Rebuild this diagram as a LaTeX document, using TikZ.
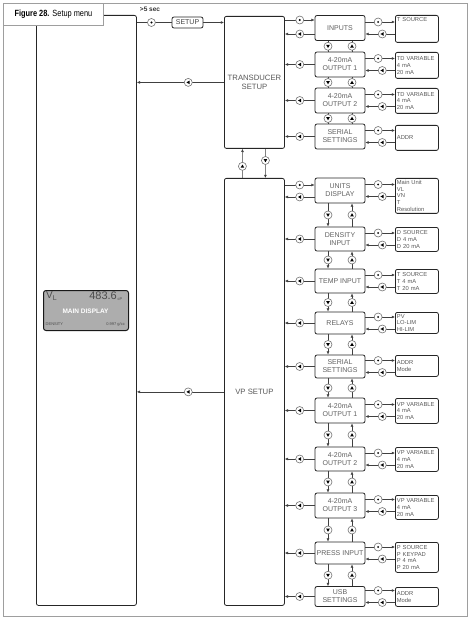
\documentclass[tikz,border=0pt]{standalone}
\usepackage{fontspec}
\setmainfont{Liberation Sans}
\newfontfamily\condfont{Liberation Sans}[FakeStretch=0.82]
\usetikzlibrary{arrows.meta,calc}
\begin{document}
\begin{tikzpicture}[x=1pt,y=-1pt,
  frame/.style={draw=black!38,line width=0.9pt},
  box/.style={draw=black!85,line width=0.8pt,rounded corners=2pt,fill=white},
  mid/.style={box,minimum width=50pt,inner sep=1pt,align=center,text=black!62,font=\fontsize{7}{8}\selectfont},
  rbox/.style={box,anchor=north west,text width=40pt,inner xsep=1.5pt,inner ysep=1.5pt,align=left,text=black!65,font=\fontsize{5.8}{6.7}\selectfont},
  conn/.style={draw=black!75,line width=0.5pt},
  arr/.style={conn,-{Latex[length=3.2pt,width=2.8pt]}},
  sym/.style={circle,draw=black!55,fill=white,line width=0.6pt,minimum size=8pt,inner sep=0pt},
  dotc/.style={sym,path picture={\fill[black] (path picture bounding box.center) circle (1.1pt);}},
  backc/.style={sym,path picture={\fill[black,shift={(path picture bounding box.center)}] (-1.8pt,0pt) -- (1.3pt,1.8pt) -- (1.3pt,-1.8pt) -- cycle;}},
  downc/.style={sym,path picture={\fill[black,shift={(path picture bounding box.center)}] (-1.8pt,1.3pt) -- (1.8pt,1.3pt) -- (0pt,-1.8pt) -- cycle;}},
  upc/.style={sym,path picture={\fill[black,shift={(path picture bounding box.center)}] (-1.8pt,-1.3pt) -- (1.8pt,-1.3pt) -- (0pt,1.8pt) -- cycle;}},
]
\useasboundingbox (0,0) rectangle (474,620);
\draw[frame] (3,3) rectangle (467,616);

% main display column
\node[box,anchor=north west,minimum width=100pt,minimum height=590pt] (main) at (36,15) {};
\node[draw=black!38,line width=0.9pt,fill=white,anchor=north west,minimum width=100pt,minimum height=22pt,inner sep=2pt] (fig) at (3,3) {\condfont\fontsize{9}{10}\selectfont\textbf{Figure 28.}\hspace{3pt}Setup menu};

\node[draw=black!90,line width=1pt,fill=black!32,rounded corners=2.5pt,anchor=north west,minimum width=85pt,minimum height=40pt] (lcd) at (43,290) {};
\node[anchor=west,inner sep=0pt,text=black!70,font=\fontsize{10}{10}\selectfont] (vl) at (46,296) {V\textsubscript{L}};
\node[anchor=east,inner sep=0pt,text=black!70,font=\fontsize{11}{11}\selectfont] (val) at (117,296) {483.6};
\node[anchor=west,inner sep=0pt,text=black!70,font=\fontsize{4}{4}\selectfont] (cp) at (117.5,299) {cP};
\node[text=white,font=\bfseries\fontsize{6.5}{7}\selectfont,inner sep=0pt] (md) at (85.5,311) {MAIN DISPLAY};
\node[anchor=west,inner sep=0pt,text=black!70,font=\fontsize{4}{4}\selectfont] (den) at (45.5,324) {DENSITY};
\node[anchor=east,inner sep=0pt,text=black!70,font=\fontsize{4}{4}\selectfont] (dv) at (125,324) {0.997 g/cc};

% setup entry
\node[font=\bfseries\fontsize{6.5}{7}\selectfont,text=black!80,inner sep=0pt] (sec) at (150,9.5) {>5 sec};
\node[box,minimum width=31pt,minimum height=11pt,inner sep=0pt,font=\fontsize{7}{8}\selectfont,text=black!75] (setup) at (187.5,22.5) {SETUP};

% setup menus
\node[box,anchor=north west,minimum width=60pt,minimum height=132pt,align=center,text=black!65,font=\fontsize{7.7}{9}\selectfont] (ts) at (224,16) {TRANSDUCER\\SETUP};
\node[box,anchor=north west,minimum width=60pt,minimum height=427pt,text=black!65,font=\fontsize{7.7}{9}\selectfont] (vp) at (224,178) {VP SETUP};

% transducer items
\node[mid,minimum height=25pt] (t1) at (340,28) {INPUTS};
\node[mid,minimum height=25pt] (t2) at (340,64.5) {4-20mA\\OUTPUT 1};
\node[mid,minimum height=25pt] (t3) at (340,100.5) {4-20mA\\OUTPUT 2};
\node[mid,minimum height=25pt] (t4) at (340,136.5) {SERIAL\\SETTINGS};

\node[rbox,minimum height=27pt] (r1) at (395,15) {\parbox[t][22pt][t]{40pt}{T SOURCE}};
\node[rbox,minimum height=26pt] (r2) at (395,52) {TD~VARIABLE\\4 mA\\20 mA};
\node[rbox,minimum height=25pt] (r3) at (395,88) {TD~VARIABLE\\4 mA\\20 mA};
\node[rbox,minimum height=25pt] (r4) at (395,125) {ADDR};

% VP items
\node[mid,minimum height=25pt] (v1) at (340,190.5) {UNITS\\DISPLAY};
\node[mid,minimum height=24pt] (v2) at (340,239) {DENSITY\\INPUT};
\node[mid,minimum height=24pt] (v3) at (340,281) {TEMP INPUT};
\node[mid,minimum height=22pt] (v4) at (340,323) {RELAYS};
\node[mid,minimum height=23pt] (v5) at (340,366.5) {SERIAL\\SETTINGS};
\node[mid,minimum height=25pt] (v6) at (340,410.5) {4-20mA\\OUTPUT 1};
\node[mid,minimum height=24pt] (v7) at (340,459) {4-20mA\\OUTPUT 2};
\node[mid,minimum height=25pt] (v8) at (340,505.5) {4-20mA\\OUTPUT 3};
\node[mid,minimum height=22pt] (v9) at (340,553) {PRESS INPUT};
\node[mid,minimum height=20pt] (v10) at (340,596.5) {USB\\SETTINGS};

\node[rbox,minimum height=35pt] (s1) at (395,178) {Main Unit\\VL\\VN\\T\\Resolution};
\node[rbox,minimum height=24pt] (s2) at (395,227) {D SOURCE\\D 4 mA\\D 20 mA};
\node[rbox,minimum height=24pt] (s3) at (395,269) {T SOURCE\\T 4 mA\\T 20 mA};
\node[rbox,minimum height=21pt] (s4) at (395,312) {PV\\LO-LIM\\HI-LIM};
\node[rbox,minimum height=21pt] (s5) at (395,355) {ADDR\\Mode};
\node[rbox,minimum height=25pt] (s6) at (395,398) {VP~VARIABLE\\4 mA\\20 mA};
\node[rbox,minimum height=24pt] (s7) at (395,447) {VP~VARIABLE\\4 mA\\20 mA};
\node[rbox,minimum height=24pt] (s8) at (395,495) {VP~VARIABLE\\4 mA\\20 mA};
\node[rbox,minimum height=30pt] (s9) at (395,542) {P SOURCE\\P KEYPAD\\P 4 mA\\P 20 mA};
\node[rbox,minimum height=19pt] (s10) at (395,587) {ADDR\\Mode};

% connectors: entry
\draw[conn] (setup.west -| main.east) -- node[dotc,pos=0.42] (c0) {} (setup.west);
\draw[arr] (setup.east) -- (setup.east -| ts.west);

% back to main display
\draw[arr] (ts.west) -- node[backc,pos=0.41] (cl1) {} (ts.west -| main.east);
\draw[arr] (vp.west) -- node[backc,pos=0.41] (cl2) {} (vp.west -| main.east);

% between transducer and VP setup
\draw[arr] ($(vp.north)+(-12,0)$) -- node[upc,pos=0.4] (cu) {} ($(ts.south)+(-12,0)$);
\draw[arr] ($(ts.south)+(11,0)$) -- node[downc,pos=0.4] (cd) {} ($(vp.north)+(11,0)$);

% transducer to items
\draw[arr] ($(ts.east |- t1.west)+(0,-8)$) -- node[dotc] (ft0) {} ($(t1.west)+(0,-8)$);
\draw[arr] ($(t1.west)+(0,6)$) -- node[backc] (bt0) {} ($(ts.east |- t1.west)+(0,6)$);
\foreach \m in {t2,t3,t4}
  \draw[arr] (\m.west) -- node[backc] (l\m) {} (ts.east |- \m.west);

% VP to items
\draw[arr] ($(vp.east |- v1.west)+(0,-5.5)$) -- node[dotc] (fv0) {} ($(v1.west)+(0,-5.5)$);
\draw[arr] ($(v1.west)+(0,6.5)$) -- node[backc] (bv0) {} ($(vp.east |- v1.west)+(0,6.5)$);
\foreach \m in {v2,v3,v4,v5,v6,v7,v8,v9,v10}
  \draw[arr] (\m.west) -- node[backc] (l\m) {} (vp.east |- \m.west);

% items to parameter lists
\foreach \m/\r in {t1/r1,t2/r2,t3/r3,t4/r4,v1/s1,v2/s2,v3/s3,v4/s4,v5/s5,v6/s6,v7/s7,v8/s8,v9/s9,v10/s10} {
  \draw[arr] ($(\m.east)+(0,-6)$) -- node[dotc,pos=0.43] (f\m) {} ($(\r.west |- \m.east)+(0,-6)$);
  \draw[arr] ($(\r.west |- \m.east)+(0,6)$) -- node[backc,pos=0.43] (b\m) {} ($(\m.east)+(0,6)$);
}

% up / down between items
\foreach \a/\b in {t1/t2,t2/t3,t3/t4} {
  \draw[conn] ($(\a.south)+(-12,0)$) -- node[downc] (d\a) {} ($(\b.north)+(-12,0)$);
  \draw[conn] ($(\b.north)+(12,0)$) -- node[upc] (u\a) {} ($(\a.south)+(12,0)$);
}
\foreach \a/\b in {v1/v2,v2/v3,v3/v4,v4/v5,v5/v6,v6/v7,v7/v8,v8/v9,v9/v10} {
  \draw[arr] ($(\a.south)+(-12,0)$) -- node[downc] (d\a) {} ($(\b.north)+(-12,0)$);
  \draw[arr] ($(\b.north)+(12,0)$) -- node[upc] (u\a) {} ($(\a.south)+(12,0)$);
}
\end{tikzpicture}
\end{document}
